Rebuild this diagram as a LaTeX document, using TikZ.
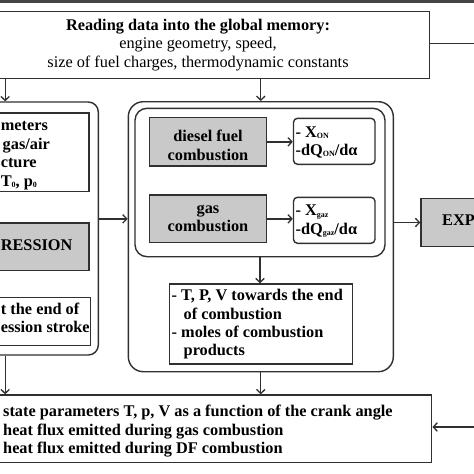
\documentclass[tikz,border=0pt]{standalone}
\usepackage{fontspec}
\setmainfont{Liberation Serif}
\usetikzlibrary{arrows.meta}
\definecolor{lnc}{HTML}{303030}
\definecolor{gfill}{HTML}{C9C9C9}
\newcommand{\sbs}[1]{\raisebox{-1.2pt}{\fontsize{8}{8}\selectfont #1}}
\begin{document}
\begin{tikzpicture}[x=1pt,y=-1pt,
  fnt/.style={font=\fontsize{16.3}{18.4}\selectfont},
  bfnt/.style={font=\bfseries\fontsize{16.3}{18.4}\selectfont},
  box/.style={draw=lnc, line width=1.4pt, inner sep=0pt},
  gbox/.style={box, fill=gfill},
  sbox/.style={box, rounded corners=4pt},
  frame/.style={box, rounded corners=#1},
  txt/.style={bfnt, inner sep=0pt, align=left},
  ctxt/.style={bfnt, inner sep=0pt, align=center},
  frag/.style={bfnt, inner sep=0pt, anchor=base east},
  lfrag/.style={bfnt, inner sep=0pt, anchor=base west},
  arr/.style={draw=lnc, line width=1.3pt, -{Straight Barb[length=4pt,width=8.5pt]}},
  conn/.style={draw=lnc, line width=1.3pt},
]
\useasboundingbox (0,0) rectangle (474,474);
\clip (0,0) rectangle (474,474);
\fill[white] (0,0) rectangle (474,474);
\fill[lnc!90] (0,0) rectangle (474,2.5);

% top box
\node[box, fnt, align=center, minimum width=462.6pt, minimum height=67.4pt] (top) at (198,45)
  {\textbf{\strut Reading data into the global memory:}\\\strut engine geometry, speed,\\\strut size of fuel charges, thermodynamic constants};

% left column
\node[frame=10pt, minimum width=186.3pt, minimum height=253pt] (lout) at (5.15,228.5) {};
\node[box, minimum width=168pt, minimum height=78.7pt] (lb1) at (5,152.35) {};
\node[gbox, minimum width=168pt, minimum height=47.7pt] (lb2) at (5,246.85) {};
\node[box, minimum width=171.4pt, minimum height=48.4pt] (lb3) at (5,321.5) {};
\node[lfrag] (f1) at (0.6,130.5) {meters};
\node[frag] (f2) at (50,149) {gas/air};
\node[lfrag] (f3) at (0.6,167.5) {cture};
\node[lfrag] (f4) at (0.6,186) {T\sbs{0}, p\sbs{0}};
\node[lfrag] (f5) at (0.6,250.7) {RESSION};
\node[frag] (f6) at (79.5,314) {t the end of};
\node[lfrag] (f7) at (0.6,332.5) {ession stroke};

% middle column
\node[frame=15pt, minimum width=265pt, minimum height=270pt] (mout) at (260.8,236.7) {};
\node[frame=12pt, minimum width=250pt, minimum height=148.4pt] (min) at (260,182.5) {};
\node[gbox, minimum width=117.4pt, minimum height=48.3pt] (dfc) at (208,141.85) {};
\node[gbox, minimum width=117.4pt, minimum height=47.7pt] (gc) at (208,218.85) {};
\node[sbox, minimum width=81.5pt, minimum height=46pt] (dfo) at (334.25,141.3) {};
\node[sbox, minimum width=81.5pt, minimum height=46pt] (go) at (334.25,220.3) {};
\node[box, minimum width=183.4pt, minimum height=80pt] (res) at (261,324) {};
\node[ctxt] (tdfc) at (208,147.2) {\strut diesel fuel\\\strut combustion};
\node[ctxt] (tgc) at (208,218.8) {\strut gas\\\strut combustion};
\node[txt, anchor=west] (tdfo) at (295.5,142.8) {\strut - X\sbs{ON}\\\strut -dQ\sbs{ON}/dα};
\node[txt, anchor=west] (tgo) at (295.5,221.5) {\strut - X\sbs{gaz}\\\strut -dQ\sbs{gaz}/dα};
\node[txt, anchor=west] (tres) at (171.5,324.6)
  {\strut - T, P, V towards the end\\\strut\hspace*{12pt}of combustion\\\strut - moles of combustion\\\strut\hspace*{12pt}products};

% right
\node[gbox, minimum width=99pt, minimum height=48.4pt] (exp) at (470.5,222.5) {};
\node[lfrag] (texp) at (442,225) {EXP};

% bottom box
\node[box, minimum width=471.7pt, minimum height=67.3pt] (bot) at (195.85,428.65) {};
\node[txt, anchor=west] (tbot) at (3,431.4)
  {\strut state parameters T, p, V as a function of the crank angle\\\strut heat flux emitted during gas combustion\\\strut heat flux emitted during DF combustion};

% connectors
\coordinate (tr) at (474,43.3);
\coordinate (br) at (474,427);
\draw[conn] (top.east |- tr) -- (tr);
\draw[arr] (top.south -| lout.north) -- (lout.north);
\draw[arr] (top.south -| mout.north) -- (mout.north);
\draw[arr] (lout.east |- gc.center) -- (mout.west |- gc.center);
\draw[arr] (dfc.east) -- (dfo.west |- dfc.east);
\draw[arr] (gc.east) -- (go.west |- gc.east);
\draw[arr] (min.south) -- (res.north -| min.south);
\draw[arr] (mout.east |- exp.west) -- (exp.west);
\draw[arr] (lout.south) -- (bot.north -| lout.south);
\draw[arr] (mout.south) -- (bot.north -| mout.south);
\draw[arr] (br) -- (bot.east |- br);
\end{tikzpicture}
\end{document}
